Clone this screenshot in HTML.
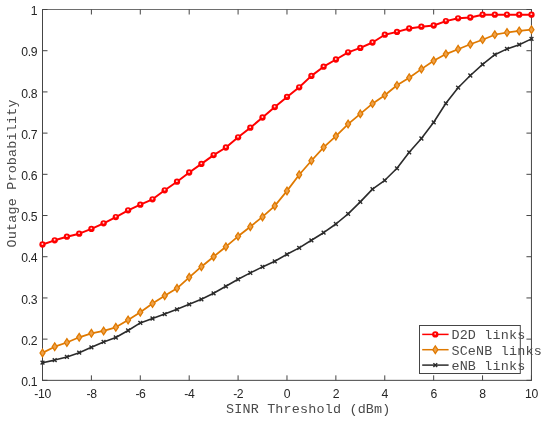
<!DOCTYPE html>
<html lang="en">
<head>
<meta charset="utf-8">
<title>Outage Probability vs SINR Threshold</title>
<style>
html,body{margin:0;padding:0;background:#fff;}
body{width:550px;height:424px;overflow:hidden;}
svg{display:block;}
.tick{font-family:"Liberation Sans",sans-serif;font-size:12.2px;letter-spacing:-0.25px;fill:#262626;}
.mono{font-family:"Liberation Mono",monospace;font-size:11.9px;letter-spacing:0.145px;fill:#4a4a4a;}
</style>
</head>
<body>
<svg width="550" height="424" viewBox="0 0 550 424">
<rect x="0" y="0" width="550" height="424" fill="#ffffff"/>

<g stroke="#454545" stroke-width="1" fill="none" stroke-linecap="butt">
<path d="M42.5 9.0V380.85M531.45 9.0V380.85M42.5 380.35H531.45"/>
<path d="M42.5 9.5H531.45" stroke="#6e6e6e" stroke-width="1.15"/>
<path d="M42.50 380.35V375.35M42.50 9.5V14.5"/>
<path d="M91.40 380.35V375.35M91.40 9.5V14.5"/>
<path d="M140.29 380.35V375.35M140.29 9.5V14.5"/>
<path d="M189.19 380.35V375.35M189.19 9.5V14.5"/>
<path d="M238.08 380.35V375.35M238.08 9.5V14.5"/>
<path d="M286.98 380.35V375.35M286.98 9.5V14.5"/>
<path d="M335.87 380.35V375.35M335.87 9.5V14.5"/>
<path d="M384.77 380.35V375.35M384.77 9.5V14.5"/>
<path d="M433.66 380.35V375.35M433.66 9.5V14.5"/>
<path d="M482.56 380.35V375.35M482.56 9.5V14.5"/>
<path d="M531.45 380.35V375.35M531.45 9.5V14.5"/>
<path d="M42.5 380.35H47.5M531.45 380.35H526.45"/>
<path d="M42.5 339.14H47.5M531.45 339.14H526.45"/>
<path d="M42.5 297.94H47.5M531.45 297.94H526.45"/>
<path d="M42.5 256.73H47.5M531.45 256.73H526.45"/>
<path d="M42.5 215.53H47.5M531.45 215.53H526.45"/>
<path d="M42.5 174.32H47.5M531.45 174.32H526.45"/>
<path d="M42.5 133.12H47.5M531.45 133.12H526.45"/>
<path d="M42.5 91.91H47.5M531.45 91.91H526.45"/>
<path d="M42.5 50.71H47.5M531.45 50.71H526.45"/>
<path d="M42.5 9.50H47.5M531.45 9.50H526.45"/>
</g>
<g class="tick" text-anchor="middle">
<text x="42.7" y="398.0"><tspan letter-spacing="-0.4">-</tspan>10</text>
<text x="91.6" y="398.0"><tspan letter-spacing="-0.4">-</tspan>8</text>
<text x="140.5" y="398.0"><tspan letter-spacing="-0.4">-</tspan>6</text>
<text x="189.4" y="398.0"><tspan letter-spacing="-0.4">-</tspan>4</text>
<text x="238.3" y="398.0"><tspan letter-spacing="-0.4">-</tspan>2</text>
<text x="287.0" y="398.0">0</text>
<text x="335.9" y="398.0">2</text>
<text x="384.8" y="398.0">4</text>
<text x="433.7" y="398.0">6</text>
<text x="482.6" y="398.0">8</text>
<text x="531.5" y="398.0">10</text>
</g>
<g class="tick" text-anchor="end">
<text x="37.4" y="386.1">0.1</text>
<text x="37.4" y="344.8">0.2</text>
<text x="37.4" y="303.6">0.3</text>
<text x="37.4" y="262.4">0.4</text>
<text x="37.4" y="221.2">0.5</text>
<text x="37.4" y="180.0">0.6</text>
<text x="37.4" y="138.8">0.7</text>
<text x="37.4" y="97.6">0.8</text>
<text x="37.4" y="56.4">0.9</text>
<text x="37.4" y="15.2">1</text>
</g>
<text class="mono" transform="translate(226.0 412.7) scale(1.13 1)">SINR Threshold (dBm)</text>
<text class="mono" transform="translate(16.1 247.4) rotate(-90) scale(1.13 1)">Outage Probability</text>
<polyline points="42.5,362.7 54.7,360.1 66.9,356.9 79.2,352.7 91.4,347.3 103.6,341.9 115.8,337.5 128.1,330.5 140.3,322.9 152.5,318.5 164.7,314.1 177.0,309.3 189.2,304.3 201.4,299.3 213.6,293.3 225.9,286.3 238.1,279.3 250.3,272.9 262.5,266.9 274.8,261.3 287.0,254.3 299.2,247.9 311.4,240.3 323.6,232.7 335.9,224.0 348.1,213.9 360.3,201.9 372.5,189.1 384.8,180.3 397.0,168.3 409.2,152.3 421.4,138.5 433.7,122.3 445.9,103.3 458.1,87.7 470.3,75.5 482.6,64.3 494.8,54.7 507.0,48.9 519.2,44.7 531.5,38.9" fill="none" stroke="#2b2b2b" stroke-width="1.6" stroke-linejoin="round"/>
<path d="M40.6 360.8L44.4 364.6M40.6 364.6L44.4 360.8" fill="none" stroke="#2b2b2b" stroke-width="1.4"/>
<path d="M52.8 358.2L56.6 362.0M52.8 362.0L56.6 358.2" fill="none" stroke="#2b2b2b" stroke-width="1.4"/>
<path d="M65.0 355.0L68.8 358.8M65.0 358.8L68.8 355.0" fill="none" stroke="#2b2b2b" stroke-width="1.4"/>
<path d="M77.3 350.8L81.1 354.6M77.3 354.6L81.1 350.8" fill="none" stroke="#2b2b2b" stroke-width="1.4"/>
<path d="M89.5 345.4L93.3 349.2M89.5 349.2L93.3 345.4" fill="none" stroke="#2b2b2b" stroke-width="1.4"/>
<path d="M101.7 340.0L105.5 343.8M101.7 343.8L105.5 340.0" fill="none" stroke="#2b2b2b" stroke-width="1.4"/>
<path d="M113.9 335.6L117.7 339.4M113.9 339.4L117.7 335.6" fill="none" stroke="#2b2b2b" stroke-width="1.4"/>
<path d="M126.2 328.6L130.0 332.4M126.2 332.4L130.0 328.6" fill="none" stroke="#2b2b2b" stroke-width="1.4"/>
<path d="M138.4 321.0L142.2 324.8M138.4 324.8L142.2 321.0" fill="none" stroke="#2b2b2b" stroke-width="1.4"/>
<path d="M150.6 316.6L154.4 320.4M150.6 320.4L154.4 316.6" fill="none" stroke="#2b2b2b" stroke-width="1.4"/>
<path d="M162.8 312.2L166.6 316.0M162.8 316.0L166.6 312.2" fill="none" stroke="#2b2b2b" stroke-width="1.4"/>
<path d="M175.1 307.4L178.9 311.2M175.1 311.2L178.9 307.4" fill="none" stroke="#2b2b2b" stroke-width="1.4"/>
<path d="M187.3 302.4L191.1 306.2M187.3 306.2L191.1 302.4" fill="none" stroke="#2b2b2b" stroke-width="1.4"/>
<path d="M199.5 297.4L203.3 301.2M199.5 301.2L203.3 297.4" fill="none" stroke="#2b2b2b" stroke-width="1.4"/>
<path d="M211.7 291.4L215.5 295.2M211.7 295.2L215.5 291.4" fill="none" stroke="#2b2b2b" stroke-width="1.4"/>
<path d="M224.0 284.4L227.8 288.2M224.0 288.2L227.8 284.4" fill="none" stroke="#2b2b2b" stroke-width="1.4"/>
<path d="M236.2 277.4L240.0 281.2M236.2 281.2L240.0 277.4" fill="none" stroke="#2b2b2b" stroke-width="1.4"/>
<path d="M248.4 271.0L252.2 274.8M248.4 274.8L252.2 271.0" fill="none" stroke="#2b2b2b" stroke-width="1.4"/>
<path d="M260.6 265.0L264.4 268.8M260.6 268.8L264.4 265.0" fill="none" stroke="#2b2b2b" stroke-width="1.4"/>
<path d="M272.9 259.4L276.7 263.2M272.9 263.2L276.7 259.4" fill="none" stroke="#2b2b2b" stroke-width="1.4"/>
<path d="M285.1 252.4L288.9 256.2M285.1 256.2L288.9 252.4" fill="none" stroke="#2b2b2b" stroke-width="1.4"/>
<path d="M297.3 246.0L301.1 249.8M297.3 249.8L301.1 246.0" fill="none" stroke="#2b2b2b" stroke-width="1.4"/>
<path d="M309.5 238.4L313.3 242.2M309.5 242.2L313.3 238.4" fill="none" stroke="#2b2b2b" stroke-width="1.4"/>
<path d="M321.7 230.8L325.5 234.6M321.7 234.6L325.5 230.8" fill="none" stroke="#2b2b2b" stroke-width="1.4"/>
<path d="M334.0 222.1L337.8 225.9M334.0 225.9L337.8 222.1" fill="none" stroke="#2b2b2b" stroke-width="1.4"/>
<path d="M346.2 212.0L350.0 215.8M346.2 215.8L350.0 212.0" fill="none" stroke="#2b2b2b" stroke-width="1.4"/>
<path d="M358.4 200.0L362.2 203.8M358.4 203.8L362.2 200.0" fill="none" stroke="#2b2b2b" stroke-width="1.4"/>
<path d="M370.6 187.2L374.4 191.0M370.6 191.0L374.4 187.2" fill="none" stroke="#2b2b2b" stroke-width="1.4"/>
<path d="M382.9 178.4L386.7 182.2M382.9 182.2L386.7 178.4" fill="none" stroke="#2b2b2b" stroke-width="1.4"/>
<path d="M395.1 166.4L398.9 170.2M395.1 170.2L398.9 166.4" fill="none" stroke="#2b2b2b" stroke-width="1.4"/>
<path d="M407.3 150.4L411.1 154.2M407.3 154.2L411.1 150.4" fill="none" stroke="#2b2b2b" stroke-width="1.4"/>
<path d="M419.5 136.6L423.3 140.4M419.5 140.4L423.3 136.6" fill="none" stroke="#2b2b2b" stroke-width="1.4"/>
<path d="M431.8 120.4L435.6 124.2M431.8 124.2L435.6 120.4" fill="none" stroke="#2b2b2b" stroke-width="1.4"/>
<path d="M444.0 101.4L447.8 105.2M444.0 105.2L447.8 101.4" fill="none" stroke="#2b2b2b" stroke-width="1.4"/>
<path d="M456.2 85.8L460.0 89.6M456.2 89.6L460.0 85.8" fill="none" stroke="#2b2b2b" stroke-width="1.4"/>
<path d="M468.4 73.6L472.2 77.4M468.4 77.4L472.2 73.6" fill="none" stroke="#2b2b2b" stroke-width="1.4"/>
<path d="M480.7 62.4L484.5 66.2M480.7 66.2L484.5 62.4" fill="none" stroke="#2b2b2b" stroke-width="1.4"/>
<path d="M492.9 52.8L496.7 56.6M492.9 56.6L496.7 52.8" fill="none" stroke="#2b2b2b" stroke-width="1.4"/>
<path d="M505.1 47.0L508.9 50.8M505.1 50.8L508.9 47.0" fill="none" stroke="#2b2b2b" stroke-width="1.4"/>
<path d="M517.3 42.8L521.1 46.6M517.3 46.6L521.1 42.8" fill="none" stroke="#2b2b2b" stroke-width="1.4"/>
<path d="M529.6 37.0L533.4 40.8M529.6 40.8L533.4 37.0" fill="none" stroke="#2b2b2b" stroke-width="1.4"/>
<polyline points="42.5,352.9 54.7,346.7 66.9,342.5 79.2,337.3 91.4,333.3 103.6,330.9 115.8,327.3 128.1,319.9 140.3,312.3 152.5,303.5 164.7,295.7 177.0,288.3 189.2,277.3 201.4,266.7 213.6,256.7 225.9,246.7 238.1,236.3 250.3,226.7 262.5,216.9 274.8,205.9 287.0,190.9 299.2,174.7 311.4,160.7 323.6,147.3 335.9,136.1 348.1,124.1 360.3,113.9 372.5,103.7 384.8,95.3 397.0,85.3 409.2,77.7 421.4,69.1 433.7,60.8 445.9,54.1 458.1,49.2 470.3,44.3 482.6,39.7 494.8,34.7 507.0,32.5 519.2,30.9 531.5,29.7" fill="none" stroke="#df7900" stroke-width="1.75" stroke-linejoin="round"/>
<path d="M42.5 349.1L45.0 352.9L42.5 356.8L40.0 352.9Z" fill="#efa24a" stroke="#df7900" stroke-width="1.25" stroke-linejoin="miter"/>
<path d="M54.7 342.8L57.3 346.7L54.7 350.6L52.2 346.7Z" fill="#efa24a" stroke="#df7900" stroke-width="1.25" stroke-linejoin="miter"/>
<path d="M66.9 338.6L69.5 342.5L66.9 346.4L64.4 342.5Z" fill="#efa24a" stroke="#df7900" stroke-width="1.25" stroke-linejoin="miter"/>
<path d="M79.2 333.4L81.7 337.3L79.2 341.2L76.6 337.3Z" fill="#efa24a" stroke="#df7900" stroke-width="1.25" stroke-linejoin="miter"/>
<path d="M91.4 329.4L93.9 333.3L91.4 337.2L88.8 333.3Z" fill="#efa24a" stroke="#df7900" stroke-width="1.25" stroke-linejoin="miter"/>
<path d="M103.6 327.1L106.2 330.9L103.6 334.8L101.1 330.9Z" fill="#efa24a" stroke="#df7900" stroke-width="1.25" stroke-linejoin="miter"/>
<path d="M115.8 323.4L118.4 327.3L115.8 331.2L113.3 327.3Z" fill="#efa24a" stroke="#df7900" stroke-width="1.25" stroke-linejoin="miter"/>
<path d="M128.1 316.1L130.6 319.9L128.1 323.8L125.5 319.9Z" fill="#efa24a" stroke="#df7900" stroke-width="1.25" stroke-linejoin="miter"/>
<path d="M140.3 308.4L142.8 312.3L140.3 316.2L137.7 312.3Z" fill="#efa24a" stroke="#df7900" stroke-width="1.25" stroke-linejoin="miter"/>
<path d="M152.5 299.6L155.1 303.5L152.5 307.4L150.0 303.5Z" fill="#efa24a" stroke="#df7900" stroke-width="1.25" stroke-linejoin="miter"/>
<path d="M164.7 291.8L167.3 295.7L164.7 299.6L162.2 295.7Z" fill="#efa24a" stroke="#df7900" stroke-width="1.25" stroke-linejoin="miter"/>
<path d="M177.0 284.4L179.5 288.3L177.0 292.2L174.4 288.3Z" fill="#efa24a" stroke="#df7900" stroke-width="1.25" stroke-linejoin="miter"/>
<path d="M189.2 273.4L191.7 277.3L189.2 281.2L186.6 277.3Z" fill="#efa24a" stroke="#df7900" stroke-width="1.25" stroke-linejoin="miter"/>
<path d="M201.4 262.8L204.0 266.7L201.4 270.6L198.9 266.7Z" fill="#efa24a" stroke="#df7900" stroke-width="1.25" stroke-linejoin="miter"/>
<path d="M213.6 252.8L216.2 256.7L213.6 260.6L211.1 256.7Z" fill="#efa24a" stroke="#df7900" stroke-width="1.25" stroke-linejoin="miter"/>
<path d="M225.9 242.9L228.4 246.7L225.9 250.6L223.3 246.7Z" fill="#efa24a" stroke="#df7900" stroke-width="1.25" stroke-linejoin="miter"/>
<path d="M238.1 232.5L240.6 236.3L238.1 240.2L235.5 236.3Z" fill="#efa24a" stroke="#df7900" stroke-width="1.25" stroke-linejoin="miter"/>
<path d="M250.3 222.9L252.9 226.7L250.3 230.6L247.8 226.7Z" fill="#efa24a" stroke="#df7900" stroke-width="1.25" stroke-linejoin="miter"/>
<path d="M262.5 213.1L265.1 216.9L262.5 220.8L260.0 216.9Z" fill="#efa24a" stroke="#df7900" stroke-width="1.25" stroke-linejoin="miter"/>
<path d="M274.8 202.1L277.3 205.9L274.8 209.8L272.2 205.9Z" fill="#efa24a" stroke="#df7900" stroke-width="1.25" stroke-linejoin="miter"/>
<path d="M287.0 187.1L289.5 190.9L287.0 194.8L284.4 190.9Z" fill="#efa24a" stroke="#df7900" stroke-width="1.25" stroke-linejoin="miter"/>
<path d="M299.2 170.9L301.7 174.7L299.2 178.6L296.6 174.7Z" fill="#efa24a" stroke="#df7900" stroke-width="1.25" stroke-linejoin="miter"/>
<path d="M311.4 156.9L314.0 160.7L311.4 164.6L308.9 160.7Z" fill="#efa24a" stroke="#df7900" stroke-width="1.25" stroke-linejoin="miter"/>
<path d="M323.6 143.5L326.2 147.3L323.6 151.2L321.1 147.3Z" fill="#efa24a" stroke="#df7900" stroke-width="1.25" stroke-linejoin="miter"/>
<path d="M335.9 132.3L338.4 136.1L335.9 140.0L333.3 136.1Z" fill="#efa24a" stroke="#df7900" stroke-width="1.25" stroke-linejoin="miter"/>
<path d="M348.1 120.2L350.6 124.1L348.1 127.9L345.5 124.1Z" fill="#efa24a" stroke="#df7900" stroke-width="1.25" stroke-linejoin="miter"/>
<path d="M360.3 110.0L362.9 113.9L360.3 117.7L357.8 113.9Z" fill="#efa24a" stroke="#df7900" stroke-width="1.25" stroke-linejoin="miter"/>
<path d="M372.5 99.9L375.1 103.7L372.5 107.5L370.0 103.7Z" fill="#efa24a" stroke="#df7900" stroke-width="1.25" stroke-linejoin="miter"/>
<path d="M384.8 91.5L387.3 95.3L384.8 99.1L382.2 95.3Z" fill="#efa24a" stroke="#df7900" stroke-width="1.25" stroke-linejoin="miter"/>
<path d="M397.0 81.5L399.5 85.3L397.0 89.1L394.4 85.3Z" fill="#efa24a" stroke="#df7900" stroke-width="1.25" stroke-linejoin="miter"/>
<path d="M409.2 73.9L411.8 77.7L409.2 81.5L406.7 77.7Z" fill="#efa24a" stroke="#df7900" stroke-width="1.25" stroke-linejoin="miter"/>
<path d="M421.4 65.2L424.0 69.1L421.4 72.9L418.9 69.1Z" fill="#efa24a" stroke="#df7900" stroke-width="1.25" stroke-linejoin="miter"/>
<path d="M433.7 56.9L436.2 60.8L433.7 64.6L431.1 60.8Z" fill="#efa24a" stroke="#df7900" stroke-width="1.25" stroke-linejoin="miter"/>
<path d="M445.9 50.2L448.4 54.1L445.9 57.9L443.3 54.1Z" fill="#efa24a" stroke="#df7900" stroke-width="1.25" stroke-linejoin="miter"/>
<path d="M458.1 45.3L460.7 49.2L458.1 53.0L455.6 49.2Z" fill="#efa24a" stroke="#df7900" stroke-width="1.25" stroke-linejoin="miter"/>
<path d="M470.3 40.4L472.9 44.3L470.3 48.1L467.8 44.3Z" fill="#efa24a" stroke="#df7900" stroke-width="1.25" stroke-linejoin="miter"/>
<path d="M482.6 35.8L485.1 39.7L482.6 43.5L480.0 39.7Z" fill="#efa24a" stroke="#df7900" stroke-width="1.25" stroke-linejoin="miter"/>
<path d="M494.8 30.8L497.3 34.7L494.8 38.5L492.2 34.7Z" fill="#efa24a" stroke="#df7900" stroke-width="1.25" stroke-linejoin="miter"/>
<path d="M507.0 28.6L509.6 32.5L507.0 36.4L504.5 32.5Z" fill="#efa24a" stroke="#df7900" stroke-width="1.25" stroke-linejoin="miter"/>
<path d="M519.2 27.1L521.8 30.9L519.2 34.8L516.7 30.9Z" fill="#efa24a" stroke="#df7900" stroke-width="1.25" stroke-linejoin="miter"/>
<path d="M531.5 25.8L534.0 29.7L531.5 33.5L528.9 29.7Z" fill="#efa24a" stroke="#df7900" stroke-width="1.25" stroke-linejoin="miter"/>
<polyline points="42.5,244.5 54.7,240.3 66.9,236.7 79.2,233.7 91.4,228.9 103.6,223.3 115.8,217.1 128.1,210.3 140.3,204.7 152.5,199.3 164.7,190.3 177.0,181.7 189.2,172.5 201.4,163.9 213.6,155.1 225.9,147.5 238.1,137.3 250.3,127.7 262.5,117.5 274.8,107.1 287.0,96.9 299.2,87.3 311.4,75.9 323.6,66.7 335.9,59.5 348.1,52.3 360.3,47.9 372.5,42.5 384.8,34.7 397.0,31.9 409.2,28.5 421.4,26.7 433.7,25.5 445.9,21.1 458.1,18.3 470.3,17.5 482.6,14.7 494.8,14.7 507.0,14.7 519.2,14.7 531.5,14.7" fill="none" stroke="#ff0000" stroke-width="1.95" stroke-linejoin="round"/>
<circle cx="42.5" cy="244.5" r="3.15" fill="#ff0000"/><circle cx="42.40" cy="243.95" r="0.95" fill="#ffd0d0"/>
<circle cx="54.7" cy="240.3" r="3.15" fill="#ff0000"/><circle cx="54.62" cy="239.75" r="0.95" fill="#ffd0d0"/>
<circle cx="66.9" cy="236.7" r="3.15" fill="#ff0000"/><circle cx="66.85" cy="236.15" r="0.95" fill="#ffd0d0"/>
<circle cx="79.2" cy="233.7" r="3.15" fill="#ff0000"/><circle cx="79.07" cy="233.15" r="0.95" fill="#ffd0d0"/>
<circle cx="91.4" cy="228.9" r="3.15" fill="#ff0000"/><circle cx="91.30" cy="228.35" r="0.95" fill="#ffd0d0"/>
<circle cx="103.6" cy="223.3" r="3.15" fill="#ff0000"/><circle cx="103.52" cy="222.75" r="0.95" fill="#ffd0d0"/>
<circle cx="115.8" cy="217.1" r="3.15" fill="#ff0000"/><circle cx="115.74" cy="216.55" r="0.95" fill="#ffd0d0"/>
<circle cx="128.1" cy="210.3" r="3.15" fill="#ff0000"/><circle cx="127.97" cy="209.75" r="0.95" fill="#ffd0d0"/>
<circle cx="140.3" cy="204.7" r="3.15" fill="#ff0000"/><circle cx="140.19" cy="204.15" r="0.95" fill="#ffd0d0"/>
<circle cx="152.5" cy="199.3" r="3.15" fill="#ff0000"/><circle cx="152.41" cy="198.75" r="0.95" fill="#ffd0d0"/>
<circle cx="164.7" cy="190.3" r="3.15" fill="#ff0000"/><circle cx="164.64" cy="189.75" r="0.95" fill="#ffd0d0"/>
<circle cx="177.0" cy="181.7" r="3.15" fill="#ff0000"/><circle cx="176.86" cy="181.15" r="0.95" fill="#ffd0d0"/>
<circle cx="189.2" cy="172.5" r="3.15" fill="#ff0000"/><circle cx="189.09" cy="171.95" r="0.95" fill="#ffd0d0"/>
<circle cx="201.4" cy="163.9" r="3.15" fill="#ff0000"/><circle cx="201.31" cy="163.35" r="0.95" fill="#ffd0d0"/>
<circle cx="213.6" cy="155.1" r="3.15" fill="#ff0000"/><circle cx="213.53" cy="154.55" r="0.95" fill="#ffd0d0"/>
<circle cx="225.9" cy="147.5" r="3.15" fill="#ff0000"/><circle cx="225.76" cy="146.95" r="0.95" fill="#ffd0d0"/>
<circle cx="238.1" cy="137.3" r="3.15" fill="#ff0000"/><circle cx="237.98" cy="136.75" r="0.95" fill="#ffd0d0"/>
<circle cx="250.3" cy="127.7" r="3.15" fill="#ff0000"/><circle cx="250.20" cy="127.15" r="0.95" fill="#ffd0d0"/>
<circle cx="262.5" cy="117.5" r="3.15" fill="#ff0000"/><circle cx="262.43" cy="116.95" r="0.95" fill="#ffd0d0"/>
<circle cx="274.8" cy="107.1" r="3.15" fill="#ff0000"/><circle cx="274.65" cy="106.55" r="0.95" fill="#ffd0d0"/>
<circle cx="287.0" cy="96.9" r="3.15" fill="#ff0000"/><circle cx="286.88" cy="96.35" r="0.95" fill="#ffd0d0"/>
<circle cx="299.2" cy="87.3" r="3.15" fill="#ff0000"/><circle cx="299.10" cy="86.75" r="0.95" fill="#ffd0d0"/>
<circle cx="311.4" cy="75.9" r="3.15" fill="#ff0000"/><circle cx="311.32" cy="75.35" r="0.95" fill="#ffd0d0"/>
<circle cx="323.6" cy="66.7" r="3.15" fill="#ff0000"/><circle cx="323.55" cy="66.15" r="0.95" fill="#ffd0d0"/>
<circle cx="335.9" cy="59.5" r="3.15" fill="#ff0000"/><circle cx="335.77" cy="58.95" r="0.95" fill="#ffd0d0"/>
<circle cx="348.1" cy="52.3" r="3.15" fill="#ff0000"/><circle cx="347.99" cy="51.75" r="0.95" fill="#ffd0d0"/>
<circle cx="360.3" cy="47.9" r="3.15" fill="#ff0000"/><circle cx="360.22" cy="47.35" r="0.95" fill="#ffd0d0"/>
<circle cx="372.5" cy="42.5" r="3.15" fill="#ff0000"/><circle cx="372.44" cy="41.95" r="0.95" fill="#ffd0d0"/>
<circle cx="384.8" cy="34.7" r="3.15" fill="#ff0000"/><circle cx="384.67" cy="34.15" r="0.95" fill="#ffd0d0"/>
<circle cx="397.0" cy="31.9" r="3.15" fill="#ff0000"/><circle cx="396.89" cy="31.35" r="0.95" fill="#ffd0d0"/>
<circle cx="409.2" cy="28.5" r="3.15" fill="#ff0000"/><circle cx="409.11" cy="27.95" r="0.95" fill="#ffd0d0"/>
<circle cx="421.4" cy="26.7" r="3.15" fill="#ff0000"/><circle cx="421.34" cy="26.15" r="0.95" fill="#ffd0d0"/>
<circle cx="433.7" cy="25.5" r="3.15" fill="#ff0000"/><circle cx="433.56" cy="24.95" r="0.95" fill="#ffd0d0"/>
<circle cx="445.9" cy="21.1" r="3.15" fill="#ff0000"/><circle cx="445.78" cy="20.55" r="0.95" fill="#ffd0d0"/>
<circle cx="458.1" cy="18.3" r="3.15" fill="#ff0000"/><circle cx="458.01" cy="17.75" r="0.95" fill="#ffd0d0"/>
<circle cx="470.3" cy="17.5" r="3.15" fill="#ff0000"/><circle cx="470.23" cy="16.95" r="0.95" fill="#ffd0d0"/>
<circle cx="482.6" cy="14.7" r="3.15" fill="#ff0000"/><circle cx="482.45" cy="14.15" r="0.95" fill="#ffd0d0"/>
<circle cx="494.8" cy="14.7" r="3.15" fill="#ff0000"/><circle cx="494.68" cy="14.15" r="0.95" fill="#ffd0d0"/>
<circle cx="507.0" cy="14.7" r="3.15" fill="#ff0000"/><circle cx="506.90" cy="14.15" r="0.95" fill="#ffd0d0"/>
<circle cx="519.2" cy="14.7" r="3.15" fill="#ff0000"/><circle cx="519.13" cy="14.15" r="0.95" fill="#ffd0d0"/>
<circle cx="531.5" cy="14.7" r="3.15" fill="#ff0000"/><circle cx="531.35" cy="14.15" r="0.95" fill="#ffd0d0"/>
<rect x="419.5" y="325.5" width="100.8" height="48.0" fill="#ffffff" stroke="#454545" stroke-width="1"/>
<path d="M422.2 334.4H448.6" stroke="#ff0000" stroke-width="1.5" fill="none"/>
<circle cx="435.3" cy="334.4" r="3.15" fill="#ff0000"/><circle cx="435.20" cy="333.85" r="0.95" fill="#ffd0d0"/>
<text class="mono" transform="translate(451.4 339.2) scale(1.13 1)">D2D links</text>
<path d="M422.2 349.7H448.6" stroke="#df7900" stroke-width="1.5" fill="none"/>
<path d="M435.3 345.8L437.9 349.7L435.3 353.6L432.8 349.7Z" fill="#efa24a" stroke="#df7900" stroke-width="1.25" stroke-linejoin="miter"/>
<text class="mono" transform="translate(451.4 354.5) scale(1.13 1)">SCeNB links</text>
<path d="M422.2 365.1H448.6" stroke="#2b2b2b" stroke-width="1.5" fill="none"/>
<path d="M433.4 363.2L437.2 367.0M433.4 367.0L437.2 363.2" fill="none" stroke="#2b2b2b" stroke-width="1.4"/>
<text class="mono" transform="translate(451.4 369.9) scale(1.13 1)">eNB links</text>
</svg>
</body>
</html>
